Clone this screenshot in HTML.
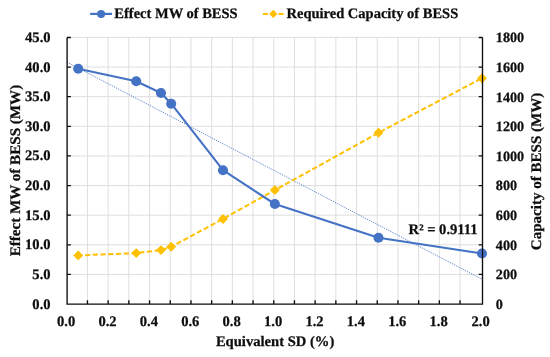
<!DOCTYPE html>
<html lang="en"><head><meta charset="utf-8"><title>BESS chart</title>
<style>html,body{margin:0;padding:0;background:#fff;}body{width:550px;height:357px;overflow:hidden;}svg{display:block;}text{font-family:"Liberation Serif", "DejaVu Serif", serif;font-weight:bold;font-size:14.6px;fill:#0d0d0d;stroke:#0d0d0d;stroke-width:0.25px;text-rendering:geometricPrecision;}</style></head><body>
<svg width="550" height="357" viewBox="0 0 550 357">
<rect x="0" y="0" width="550" height="357" fill="#ffffff"/>
<path d="M87.45 37.45V304.05M108.15 37.45V304.05M128.85 37.45V304.05M149.55 37.45V304.05M170.25 37.45V304.05M190.95 37.45V304.05M211.65 37.45V304.05M232.35 37.45V304.05M253.05 37.45V304.05M273.75 37.45V304.05M294.45 37.45V304.05M315.15 37.45V304.05M335.85 37.45V304.05M356.55 37.45V304.05M377.25 37.45V304.05M397.95 37.45V304.05M418.65 37.45V304.05M439.35 37.45V304.05M460.05 37.45V304.05M67.10 274.43H482.50M67.10 244.81H482.50M67.10 215.18H482.50M67.10 185.56H482.50M67.10 155.94H482.50M67.10 126.32H482.50M67.10 96.69H482.50M67.10 67.07H482.50M67.10 37.45H482.50" stroke="#dadada" stroke-width="0.9" fill="none"/>
<line x1="67.10" y1="62.20" x2="482.50" y2="279.50" stroke="#4472c4" stroke-width="0.9" stroke-dasharray="1.2 1.2"/>
<polyline points="78.20,255.40 136.20,253.10 161.00,250.10 171.20,246.80 223.00,219.00 274.90,190.00 378.50,132.70 482.00,78.20" fill="none" stroke="#ffc000" stroke-width="2.0" stroke-dasharray="5.2 2.55" stroke-dashoffset="0.95"/>
<path d="M78.20 250.45L83.15 255.40L78.20 260.35L73.25 255.40Z" fill="#ffc000"/>
<path d="M136.20 248.15L141.15 253.10L136.20 258.05L131.25 253.10Z" fill="#ffc000"/>
<path d="M161.00 245.15L165.95 250.10L161.00 255.05L156.05 250.10Z" fill="#ffc000"/>
<path d="M171.20 241.85L176.15 246.80L171.20 251.75L166.25 246.80Z" fill="#ffc000"/>
<path d="M223.00 214.05L227.95 219.00L223.00 223.95L218.05 219.00Z" fill="#ffc000"/>
<path d="M274.90 185.05L279.85 190.00L274.90 194.95L269.95 190.00Z" fill="#ffc000"/>
<path d="M378.50 127.75L383.45 132.70L378.50 137.65L373.55 132.70Z" fill="#ffc000"/>
<path d="M482.00 73.25L486.95 78.20L482.00 83.15L477.05 78.20Z" fill="#ffc000"/>
<polyline points="78.20,68.70 136.20,81.30 161.00,93.00 171.20,103.70 223.00,170.20 274.90,204.00 378.50,237.70 482.00,253.50" fill="none" stroke="#4472c4" stroke-width="2.1" stroke-linejoin="round"/>
<circle cx="78.20" cy="68.70" r="5.05" fill="#4472c4"/>
<circle cx="136.20" cy="81.30" r="5.05" fill="#4472c4"/>
<circle cx="161.00" cy="93.00" r="5.05" fill="#4472c4"/>
<circle cx="171.20" cy="103.70" r="5.05" fill="#4472c4"/>
<circle cx="223.00" cy="170.20" r="5.05" fill="#4472c4"/>
<circle cx="274.90" cy="204.00" r="5.05" fill="#4472c4"/>
<circle cx="378.50" cy="237.70" r="5.05" fill="#4472c4"/>
<circle cx="482.00" cy="253.50" r="5.05" fill="#4472c4"/>
<path d="M67.10 37.45V304.05H482.50V37.45M67.10 304.05h3.8M482.50 304.05h-3.8M67.10 274.43h3.8M482.50 274.43h-3.8M67.10 244.81h3.8M482.50 244.81h-3.8M67.10 215.18h3.8M482.50 215.18h-3.8M67.10 185.56h3.8M482.50 185.56h-3.8M67.10 155.94h3.8M482.50 155.94h-3.8M67.10 126.32h3.8M482.50 126.32h-3.8M67.10 96.69h3.8M482.50 96.69h-3.8M67.10 67.07h3.8M482.50 67.07h-3.8M67.10 37.45h3.8M482.50 37.45h-3.8M67.10 304.05v-3.8M87.45 304.05v-3.8M108.15 304.05v-3.8M128.85 304.05v-3.8M149.55 304.05v-3.8M170.25 304.05v-3.8M190.95 304.05v-3.8M211.65 304.05v-3.8M232.35 304.05v-3.8M253.05 304.05v-3.8M273.75 304.05v-3.8M294.45 304.05v-3.8M315.15 304.05v-3.8M335.85 304.05v-3.8M356.55 304.05v-3.8M377.25 304.05v-3.8M397.95 304.05v-3.8M418.65 304.05v-3.8M439.35 304.05v-3.8M460.05 304.05v-3.8M482.50 304.05v-3.8" stroke="#0d0d0d" stroke-width="1.35" fill="none" stroke-linecap="butt"/>
<text x="50.6" y="308.55" text-anchor="end">0.0</text>
<text x="50.6" y="278.93" text-anchor="end">5.0</text>
<text x="50.6" y="249.31" text-anchor="end">10.0</text>
<text x="50.6" y="219.68" text-anchor="end">15.0</text>
<text x="50.6" y="190.06" text-anchor="end">20.0</text>
<text x="50.6" y="160.44" text-anchor="end">25.0</text>
<text x="50.6" y="130.82" text-anchor="end">30.0</text>
<text x="50.6" y="101.19" text-anchor="end">35.0</text>
<text x="50.6" y="71.57" text-anchor="end">40.0</text>
<text x="50.6" y="41.95" text-anchor="end">45.0</text>
<text x="495.8" y="308.95" style="font-size:14.2px">0</text>
<text x="495.8" y="279.33" style="font-size:14.2px">200</text>
<text x="495.8" y="249.71" style="font-size:14.2px">400</text>
<text x="495.8" y="220.08" style="font-size:14.2px">600</text>
<text x="495.8" y="190.46" style="font-size:14.2px">800</text>
<text x="495.8" y="160.84" style="font-size:14.2px">1000</text>
<text x="495.8" y="131.22" style="font-size:14.2px">1200</text>
<text x="495.8" y="101.59" style="font-size:14.2px">1400</text>
<text x="495.8" y="71.97" style="font-size:14.2px">1600</text>
<text x="495.8" y="42.35" style="font-size:14.2px">1800</text>
<text x="66.10" y="326.3" text-anchor="middle">0.0</text>
<text x="107.50" y="326.3" text-anchor="middle">0.2</text>
<text x="148.90" y="326.3" text-anchor="middle">0.4</text>
<text x="190.30" y="326.3" text-anchor="middle">0.6</text>
<text x="231.70" y="326.3" text-anchor="middle">0.8</text>
<text x="273.10" y="326.3" text-anchor="middle">1.0</text>
<text x="314.50" y="326.3" text-anchor="middle">1.2</text>
<text x="355.90" y="326.3" text-anchor="middle">1.4</text>
<text x="397.30" y="326.3" text-anchor="middle">1.6</text>
<text x="438.70" y="326.3" text-anchor="middle">1.8</text>
<text x="480.60" y="326.3" text-anchor="middle">2.0</text>
<text x="275.1" y="345.8" text-anchor="middle">Equivalent SD (%)</text>
<text transform="translate(20.3 170.6) rotate(-90)" text-anchor="middle" textLength="171.5" lengthAdjust="spacingAndGlyphs">Effect MW of BESS (MW)</text>
<text transform="translate(540.7 171.4) rotate(-90)" text-anchor="middle" textLength="157.5" lengthAdjust="spacingAndGlyphs">Capacity of BESS (MW)</text>
<text x="408.6" y="233.8">R² = 0.9111</text>
<line x1="90.2" y1="13.9" x2="112" y2="13.9" stroke="#4472c4" stroke-width="2.2"/>
<circle cx="101.1" cy="13.9" r="4" fill="#4472c4"/>
<text x="114.3" y="18.1" style="font-size:14.5px">Effect MW of BESS</text>
<path d="M262.9 13.9h5M278.5 13.9h5" stroke="#ffc000" stroke-width="2.0" fill="none"/>
<path d="M273.30 9.70L277.50 13.90L273.30 18.10L269.10 13.90Z" fill="#ffc000"/>
<text x="286.5" y="18.1" style="font-size:14.5px">Required Capacity of BESS</text>
</svg></body></html>
